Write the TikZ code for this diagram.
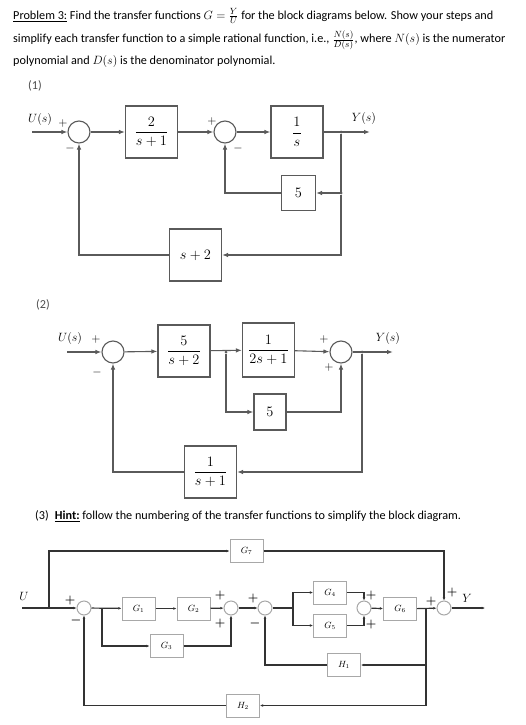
\documentclass[tikz,border=0pt]{standalone}
\usepackage{amsmath}
\usepackage[no-math]{fontspec}
\setmainfont{Carlito}
\usepackage{xcolor}
\usetikzlibrary{arrows.meta, positioning, calc}
\definecolor{scan}{HTML}{5A5A5A}
\definecolor{ink}{HTML}{333333}
\definecolor{rim}{HTML}{A8A8A8}
\tikzset{
  txt/.style   = {anchor=west, inner sep=0pt, font=\fontsize{12.2}{14}\selectfont},
  blk/.style   = {draw=scan, line width=1.1pt, minimum width=52pt, minimum height=52pt,
                  inner sep=2pt, font=\fontsize{14}{16}\selectfont},
  kblk/.style  = {draw=scan, line width=1.1pt, minimum width=34pt, minimum height=35pt,
                  inner sep=2pt, font=\fontsize{14}{16}\selectfont},
  jn/.style    = {draw=scan, line width=1.1pt, circle, minimum size=22pt, inner sep=0pt},
  fl/.style    = {draw=scan, line width=1.1pt, -{Latex[length=6pt,width=4.5pt]}},
  gb/.style    = {draw=rim, line width=1pt, minimum width=33pt, minimum height=23pt,
                  inner sep=1pt, font=\small},
  sj/.style    = {draw=rim, line width=1pt, circle, minimum size=14pt, inner sep=0pt},
  sa/.style    = {draw=ink, line width=1.2pt, -{Latex[length=3.2pt,width=2.8pt]}},
  sg/.style    = {inner sep=0pt, font=\fontsize{12}{12}\selectfont},
  lbl/.style   = {inner sep=0pt, font=\fontsize{12}{12}\selectfont},
  dot/.style   = {circle, fill=scan, inner sep=0pt, minimum size=3pt},
}
\begin{document}
\begin{tikzpicture}[x=1pt, y=-1pt]
  \useasboundingbox (0,0) rectangle (525,725);
  % problem text
  \node[txt] (l1) at (13,16) {\underline{Problem 3:} Find the transfer functions $G=\frac{Y}{U}$ for the block diagrams below. Show your steps and};
  \node[txt] (l2) at (13,40) {simplify each transfer function to a simple rational function, i.e., $\frac{N(s)}{D(s)}$, where $N(s)$ is the numerator};
  \node[txt] (l3) at (13,62) {polynomial and $D(s)$ is the denominator polynomial.};
  \node[txt, text=black!70] (p1) at (28,86) {(1)};
  \node[txt, text=black!70] (p2) at (36,305) {(2)};
  \node[txt] (p3) at (35,516) {(3)\enspace\underline{\textbf{Hint:}} follow the numbering of the transfer functions to simplify the block diagram.};

  % (1)
  \node[jn]  (s1) at (79,132) {};
  \node[blk] (g1) at (151.5,132) {$\dfrac{2}{s+1}$};
  \node[jn]  (s2) at (225,132) {};
  \node[blk] (g2) at (297,132) {$\dfrac{1}{s}$};
  \node[kblk] (k1) at (298.5,193) {$5$};
  \node[blk] (g3) at (195.5,255) {$s+2$};
  \coordinate (u1) at (32,132);
  \coordinate (y1) at (370,132);
  \node[dot] (b1) at (341,132) {};
  \node[dot] (b2) at (341,193) {};
  \draw[fl] (u1) -- (s1); \draw[fl] (s1) -- (g1); \draw[fl] (g1) -- (s2);
  \draw[fl] (s2) -- (g2); \draw[fl] (g2) -- (y1);
  \draw[fl] (b1) |- (k1); \draw[fl] (k1) -| (s2);
  \draw[fl] (b2) |- (g3); \draw[fl] (g3) -| (s1);
  \node[lbl] at (40,119) {$U(s)$};
  \node[lbl] at (364,118) {$Y(s)$};
  \node[sg] at (63,123) {$+$}; \node[sg] at (70,148) {$-$};
  \node[sg] at (212,121) {$+$}; \node[sg] at (238,148) {$-$};

  % (2)
  \node[jn]  (s3) at (113,352) {};
  \node[blk] (g4) at (184,351) {$\dfrac{5}{s+2}$};
  \node[blk, minimum height=54pt] (g5) at (268.5,350) {$\dfrac{1}{2s+1}$};
  \node[jn]  (s4) at (341,352) {};
  \node[kblk, minimum width=32pt, minimum height=36pt] (k2) at (270,412) {$5$};
  \node[blk] (g6) at (210.5,472) {$\dfrac{1}{s+1}$};
  \coordinate (u2) at (67,352);
  \coordinate (y2) at (393,352);
  \node[dot] (b3) at (226,352) {};
  \node[dot] (b4) at (362,352) {};
  \draw[fl] (u2) -- (s3); \draw[fl] (s3) -- (g4); \draw[fl] (g4) -- (g5);
  \draw[fl] (g5) -- (s4); \draw[fl] (s4) -- (y2);
  \draw[fl] (b3) |- (k2); \draw[fl] (k2) -| (s4);
  \draw[fl] (b4) |- (g6); \draw[fl] (g6) -| (s3);
  \node[lbl] at (70,338) {$U(s)$};
  \node[lbl] at (388,338) {$Y(s)$};
  \node[sg] at (96,339) {$+$}; \node[sg] at (97,372) {$-$};
  \node[sg] at (324,339) {$+$}; \node[sg] at (329,367) {$+$};

  % (3)
  \node[sj] (a1) at (84,608) {};
  \node[gb] (G1) at (138.5,608.5) {$G_1$};
  \node[gb] (G2) at (193.5,608.5) {$G_2$};
  \node[sj] (a2) at (231,608) {};
  \node[gb] (G3) at (166.5,646) {$G_3$};
  \node[sj] (a3) at (265,608) {};
  \node[gb] (G4) at (330,592.5) {$G_4$};
  \node[gb] (G5) at (330,625.5) {$G_5$};
  \node[sj] (a4) at (364,608) {};
  \node[gb] (G6) at (400,609) {$G_6$};
  \node[sj] (a5) at (444,608) {};
  \node[gb] (H1) at (344,665) {$H_1$};
  \node[gb] (H2) at (243,705.5) {$H_2$};
  \node[gb] (G7) at (246.5,551) {$G_7$};
  \coordinate (u3) at (22,608);
  \coordinate (y3) at (485,608);
  \coordinate (c1) at (49,608);
  \coordinate (c2) at (102,608);
  \coordinate (c3) at (293,608);
  \coordinate (c4) at (426,608);
  \draw[sa] (u3) -- (a1); \draw[sa] (c1) |- (G7); \draw[sa] (G7) -| (a5);
  \draw[sa] (a1) -- (G1); \draw[sa] (G1) -- (G2); \draw[sa] (G2) -- (a2);
  \draw[sa] (c2) |- (G3); \draw[sa] (G3) -| (a2); \draw[sa] (a2) -- (a3);
  \draw[draw=ink, line width=1.2pt] (a3) -- (c3);
  \draw[sa] (c3) |- (G4); \draw[sa] (c3) |- (G5);
  \draw[sa] (G4) -| (a4); \draw[sa] (G5) -| (a4);
  \draw[sa] (a4) -- (G6); \draw[sa] (G6) -- (a5); \draw[sa] (a5) -- (y3);
  \draw[sa] (c4) |- (H1); \draw[sa] (H1) -| (a3);
  \draw[sa] (c4) |- (H2); \draw[sa] (H2) -| (a1);
  \node[lbl] at (24,596) {$U$};
  \node[lbl] at (467,598) {$Y$};
  \node[sg] at (70,600) {$\boldsymbol{+}$}; \node[sg] at (76,620) {$\boldsymbol{-}$};
  \node[sg] at (220,595) {$\boldsymbol{+}$}; \node[sg] at (220,623) {$\boldsymbol{+}$};
  \node[sg] at (253,598) {$\boldsymbol{+}$}; \node[sg] at (255,623) {$\boldsymbol{-}$};
  \node[sg] at (371,595) {$\boldsymbol{+}$}; \node[sg] at (371,624) {$\boldsymbol{+}$};
  \node[sg] at (431,601) {$\boldsymbol{+}$}; \node[sg] at (452,592) {$\boldsymbol{+}$};
\end{tikzpicture}
\end{document}
